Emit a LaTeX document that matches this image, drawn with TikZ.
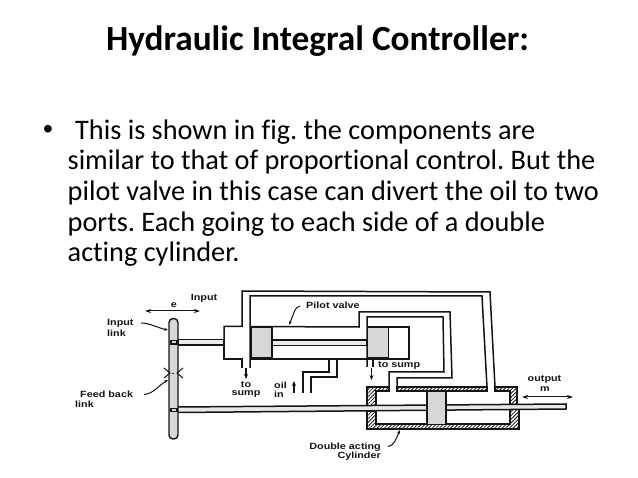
\documentclass[tikz,border=0pt]{standalone}
\usepackage{fontspec}
\setmainfont[RawFeature={-liga}]{Carlito}
\newfontfamily\lab[FakeStretch=1.2]{Liberation Sans}
\newfontfamily\bulletfont{Liberation Sans}
\usetikzlibrary{arrows.meta,patterns.meta}
\definecolor{ink}{RGB}{20,20,20}
\definecolor{spool}{RGB}{215,215,215}
\tikzset{
  pipe/.style={draw=ink,line width=1.5pt,line join=miter},
  solid part/.style={draw=ink,line width=1.4pt,fill=spool},
  hatched/.style={draw=ink,line width=1.3pt,pattern={Lines[angle=45,distance=2.6pt,line width=0.8pt]},pattern color=ink},
  tag/.style={font=\lab\bfseries\fontsize{9}{10}\selectfont,text=ink,inner sep=0pt},
  lead/.style={draw=ink,line width=1pt},
  motion/.style={draw=ink,line width=1pt,{Stealth[length=6pt,width=4pt]}-{Stealth[length=6pt,width=4pt]}},
  flow/.style={draw=ink,line width=1.1pt,-{Stealth[length=5pt,width=4pt]}},
  bodytext/.style={font=\frenchspacing\fontsize{28.3}{32}\selectfont,anchor=base west,inner sep=0pt,text=black},
}
\begin{document}
\begin{tikzpicture}[x=1pt,y=-1pt]
\useasboundingbox (0,0) rectangle (638,478);
\fill[white] (0,0) rectangle (638,478);
\node[font=\bfseries\fontsize{35.3}{40}\selectfont,inner sep=0pt,anchor=base] (title) at (317.5,51) {Hydraulic Integral Controller:};
\node[font=\bulletfont\fontsize{28}{32}\selectfont,inner sep=0pt,anchor=center] (bullet) at (48,132) {•};
\node[bodytext] (l1) at (75,139.5) {This is shown in fig. the components are};
\node[bodytext] (l2) at (67.5,170) {similar to that of proportional control. But the};
\node[bodytext] (l3) at (67.5,200.7) {pilot valve in this case can divert the oil to two};
\node[bodytext] (l4) at (67.5,231.2) {ports. Each going to each side of a double};
\node[bodytext] (l5) at (67.5,261.8) {acting cylinder.};

% rods
\draw[pipe,fill=spool!50] (178,339.5) rectangle (224,345);
\draw[pipe,fill=spool!50] (272,340) rectangle (367,345.5);
\path[fill=spool!60] (178,407) -- (566,404) -- (566,409) -- (178,412.5) -- cycle;
\draw[pipe] (178,407) -- (566,404) -- (566,409) -- (178,412.5);

% link
\draw[solid part,rounded corners=4pt] (169,318.5) rectangle (178,439);
\fill[ink] (169.5,340) rectangle (177.5,345);
\fill[ink] (169.5,408) rectangle (177.5,412.5);
\fill[spool] (171.5,341.5) rectangle (175.5,343.5);
\fill[spool] (171.5,409.5) rectangle (175.5,411);
\draw[lead] (164,368) -- (170,373) -- (164,378);
\draw[lead] (183,368) -- (177,373) -- (183,378);
\fill[ink] (173,373.5) circle (0.8);

% left chamber, valve body
\draw[pipe] (224,339.5) -- (224,326.5) -- (242,326.5) -- (242,291) -- (490,292) -- (495,387);
\draw[pipe] (224,345) -- (224,359) -- (242,359) -- (242,368);
\draw[pipe] (250,368) -- (250,296) -- (482,296) -- (487,387);
\draw[pipe] (250,326.5) -- (359,327) -- (359,312) -- (450,312) -- (452,378) -- (397,378) -- (397,387);
\draw[pipe] (250,359) -- (367,359);
\draw[pipe] (367,367) -- (367,317) -- (443,317) -- (444,372) -- (389,372) -- (389,387);
\draw[pipe] (388,327) -- (409,327) -- (409,359) -- (367,359);
\draw[pipe] (373,359) -- (373,367);

% oil supply
\draw[pipe] (303,393) -- (303,372) -- (329,372) -- (329,359);
\draw[pipe] (311,393) -- (311,377) -- (337,377) -- (337,359);

% spools
\node[solid part,minimum width=21pt,minimum height=31pt,inner sep=0pt] (spoolA) at (261.5,342.5) {};
\node[solid part,minimum width=21pt,minimum height=31pt,inner sep=0pt] (spoolB) at (378,342.5) {};

% cylinder
\draw[hatched] (367,387) -- (389,387) -- (389,391) -- (376,391) -- (376,405.5) -- (367,405.5) -- cycle;
\draw[hatched] (397,387) rectangle (487,391);
\draw[hatched] (495,387) -- (517,387) -- (517,404.5) -- (510,404.5) -- (510,391) -- (495,391) -- cycle;
\draw[hatched] (367,411.5) -- (376,411.5) -- (376,424) -- (510,424) -- (510,409.5) -- (519,409.5) -- (519,429) -- (367,429) -- cycle;
\node[solid part,minimum width=19pt,minimum height=32.5pt,inner sep=0pt] (piston) at (436.5,408) {};

% labels
\node[tag] (e) at (174,305) {e};
\node[tag] (inp) at (204,298.5) {Input};
\coordinate (eL) at (145,311);
\coordinate (eR) at (200,311);
\draw[motion] (eL) -- (eR);
\node[tag,anchor=west] (il1) at (107,323) {Input};
\node[tag,anchor=west] (il2) at (107,333) {link};
\draw[lead,-{Stealth[length=4pt,width=3pt]}] (141,323) .. controls (150,323) and (158,328) .. (168,330);
\node[tag,anchor=west] (pv) at (306,305.5) {Pilot valve};
\draw[lead,-{Stealth[length=4pt,width=3pt]}] (300,306) .. controls (295,306) and (293,316) .. (289,325);
\node[tag] (ts1) at (246,385) {to};
\node[tag] (ts2) at (246,394) {sump};
\draw[flow] (246,368) -- (246,379);
\node[tag,anchor=west] (oil1) at (274,385) {oil};
\node[tag,anchor=west] (oil2) at (274,394) {in};
\draw[flow] (294,393) -- (294,381);
\node[tag,anchor=west] (ts3) at (378,365) {to sump};
\draw[flow] (371.5,368) -- (371.5,380);
\node[tag,anchor=west] (fb1) at (80,394.5) {Feed back};
\node[tag,anchor=west] (fb2) at (75,404) {link};
\draw[lead,-{Stealth[length=4pt,width=3pt]}] (144,394.5) .. controls (153,394) and (158,386) .. (168,380);
\node[tag] (out1) at (544.5,379) {output};
\node[tag] (out2) at (545,389) {m};
\coordinate (mL) at (522,397);
\coordinate (mR) at (573,397);
\draw[motion] (mL) -- (mR);
\node[tag,anchor=east] (da1) at (381,447) {Double acting};
\node[tag,anchor=east] (da2) at (381,456.5) {Cylinder};
\draw[lead,-{Stealth[length=4pt,width=3pt]}] (388,446.5) .. controls (394,446) and (396,439) .. (400,430);
\end{tikzpicture}
\end{document}
